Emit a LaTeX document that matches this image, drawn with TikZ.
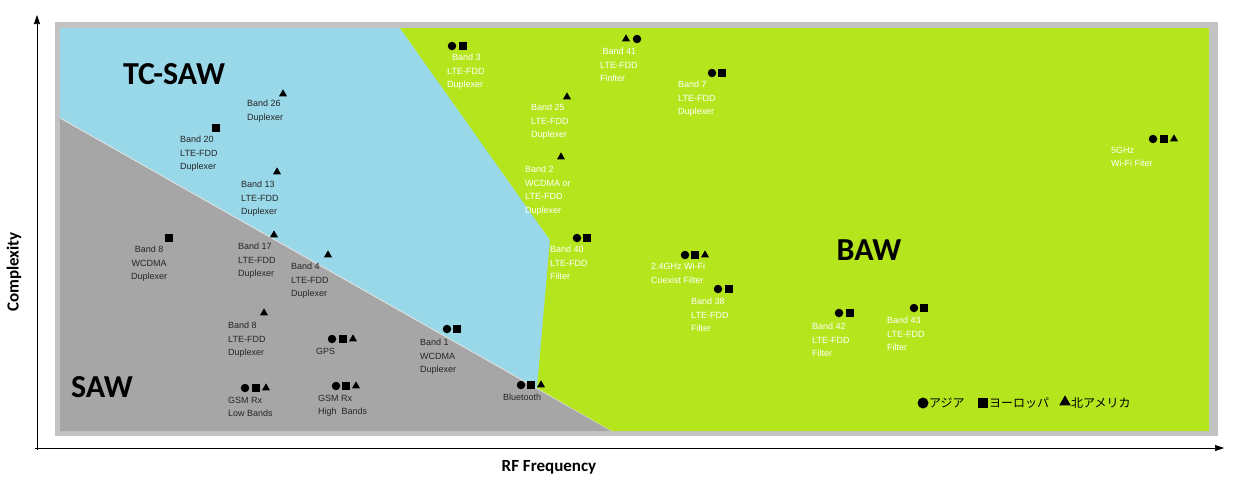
\documentclass[tikz,border=0pt]{standalone}
\usepackage{fontspec}
\setmainfont{Liberation Sans}
\newfontfamily\calfont{Carlito}
\newfontfamily\cjkfont{Noto Sans CJK JP}
\usetikzlibrary{shapes.geometric,arrows.meta}
\definecolor{blu}{HTML}{99D8E8}
\definecolor{grn}{HTML}{B5E61D}
\definecolor{gry}{HTML}{A6A6A6}
\definecolor{frm}{HTML}{C3C3C3}
\tikzset{
 ci/.style={circle,fill=black,inner sep=0,minimum size=8.5pt},
 sq/.style={rectangle,fill=black,inner sep=0,minimum size=7.5pt},
 tr/.style={isosceles triangle,isosceles triangle apex angle=60,shape border rotate=90,fill=black,inner sep=0,minimum height=7pt},
 lb/.style={anchor=north west,inner sep=0,align=left,font=\fontsize{9}{13.5}\selectfont,text=#1},
 lb/.default=black!85,
 big/.style={font=\calfont\bfseries\fontsize{32}{33}\selectfont,inner sep=0},
 ax/.style={font=\calfont\bfseries\fontsize{17}{18}\selectfont,inner sep=0}
}
\begin{document}
\begin{tikzpicture}[x=1pt,y=-1pt]
\useasboundingbox (0,0) rectangle (1234,485);
\fill[frm] (55,22) rectangle (1218,436);
\fill[blu] (60,28) rectangle (1209,431);
\fill[gry] (60,118) -- (612,431) -- (60,431) -- cycle;
\draw[white!80!gray,line width=0.8] (60,118) -- (612,431);
\fill[grn] (400,28) -- (1209,28) -- (1209,431) -- (612,431) -- (537,388) -- (550,240) -- cycle;
% axes
\coordinate (o) at (37,448); \coordinate (yt) at (37,15); \coordinate (xt) at (1224,448);
\draw[-{Triangle[length=9pt,width=6pt]},line width=0.7] (37,450) -- (yt);
\draw[-{Triangle[length=9pt,width=6pt]},line width=0.7] (35,448) -- (xt);
\node[ax,rotate=90] (yl) at (14,272) {Complexity};
\node[ax] (xl) at (549,467) {RF Frequency};
\node[big] (tc) at (174,74) {TC-SAW};
\node[big] (saw) at (102,387) {SAW};
\node[big] (baw) at (869,250) {BAW};
% blue / gray labels
\node[tr] (m26) at (283,94) {}; \node[lb] (t26) at (247,100) {Band 26\\Duplexer};
\node[sq] (m20) at (216,128) {}; \node[lb] (t20) at (180,136) {Band 20\\LTE-FDD\\Duplexer};
\node[tr] (m13) at (277,172) {}; \node[lb] (t13) at (241,181) {Band 13\\LTE-FDD\\Duplexer};
\node[sq] (m8w) at (169,238) {}; \node[lb,align=center] (t8w) at (131,246) {Band 8\\WCDMA\\Duplexer};
\node[tr] (m17) at (274,235) {}; \node[lb] (t17) at (238,243) {Band 17\\LTE-FDD\\Duplexer};
\node[tr] (m4) at (328,255) {}; \node[lb] (t4) at (291,263) {Band 4\\LTE-FDD\\Duplexer};
\node[tr] (m8l) at (264,313) {}; \node[lb] (t8l) at (228,322) {Band 8\\LTE-FDD\\Duplexer};
\node[ci] (g1) at (332,339) {}; \node[sq] (g2) at (343,339) {}; \node[tr] (g3) at (353,339) {};
\node[lb] (tg) at (316,348) {GPS};
\node[ci] (b1a) at (447,329) {}; \node[sq] (b1b) at (457,329) {};
\node[lb] (tb1) at (420,339) {Band 1\\WCDMA\\Duplexer};
\node[ci] (l1) at (245,388) {}; \node[sq] (l2) at (256,388) {}; \node[tr] (l3) at (266,388) {};
\node[lb] (tl) at (228,397) {GSM Rx\\Low Bands};
\node[ci] (h1) at (336,386) {}; \node[sq] (h2) at (346,386) {}; \node[tr] (h3) at (356,386) {};
\node[lb] (th) at (318,395) {GSM Rx\\High\ \ Bands};
\node[ci] (bt1) at (521,385) {}; \node[sq] (bt2) at (531,385) {}; \node[tr] (bt3) at (541,385) {};
\node[lb] (tbt) at (503,394) {Bluetooth};
% green labels
\node[ci] (m3a) at (452,46) {}; \node[sq] (m3b) at (463,46) {};
\node[lb=white] (t3) at (447,54) {\ \ Band 3\\LTE-FDD\\Duplexer};
\node[tr] (m41a) at (626,39) {}; \node[ci] (m41b) at (637,39) {};
\node[lb=white] (t41) at (600,48) {\ Band 41\\LTE-FDD\\Finlter};
\node[ci] (m7a) at (712,73) {}; \node[sq] (m7b) at (722,73) {};
\node[lb=white] (t7) at (678,81) {Band 7\\LTE-FDD\\Duplexer};
\node[tr] (m25) at (567,97) {}; \node[lb=white] (t25) at (531,104) {Band 25\\LTE-FDD\\Duplexer};
\node[tr] (m2) at (561,157) {}; \node[lb=white] (t2) at (525,166) {Band 2\\WCDMA or\\LTE-FDD\\Duplexer};
\node[ci] (m40a) at (577,238) {}; \node[sq] (m40b) at (587,238) {};
\node[lb=white] (t40) at (550,246) {Band 40\\LTE-FDD\\Filter};
\node[ci] (w1) at (685,255) {}; \node[sq] (w2) at (695,255) {}; \node[tr] (w3) at (705,255) {};
\node[lb=white] (tw) at (651,263) {2.4GHz Wi-Fi\\Coexist Filter};
\node[ci] (m38a) at (718,289) {}; \node[sq] (m38b) at (729,289) {};
\node[lb=white] (t38) at (691,298) {Band 38\\LTE-FDD\\Filter};
\node[ci] (m42a) at (839,313) {}; \node[sq] (m42b) at (850,313) {};
\node[lb=white] (t42) at (812,323) {Band 42\\LTE-FDD\\Filter};
\node[ci] (m43a) at (914,308) {}; \node[sq] (m43b) at (924,308) {};
\node[lb=white] (t43) at (887,317) {Band 43\\LTE-FDD\\Filter};
\node[ci] (f1) at (1153,139) {}; \node[sq] (f2) at (1164,139) {}; \node[tr] (f3) at (1174,139) {};
\node[lb=white] (tf) at (1111,147) {5GHz\\Wi-Fi Fiter};
% legend
\node[ci,minimum size=11pt] (la) at (923,403) {};
\node[anchor=west,inner sep=0,font=\cjkfont\fontsize{12}{12}\selectfont] (lta) at (929,403) {アジア};
\node[sq,minimum size=10pt] (lb2) at (983,403) {};
\node[anchor=west,inner sep=0,font=\cjkfont\fontsize{12}{12}\selectfont] (ltb) at (989,403) {ヨーロッパ};
\node[tr,minimum height=10pt] (lc) at (1065,402) {};
\node[anchor=west,inner sep=0,font=\cjkfont\fontsize{12}{12}\selectfont] (ltc) at (1071,403) {北アメリカ};
\end{tikzpicture}
\end{document}
